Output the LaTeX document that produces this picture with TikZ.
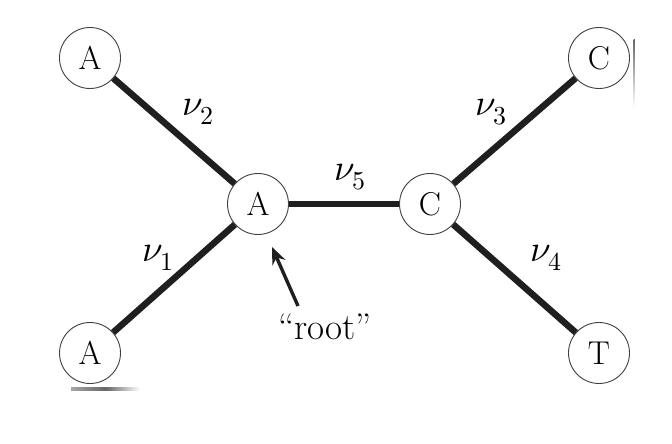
\documentclass[tikz,border=0pt]{standalone}
\usepackage{fontspec}
\usepackage{unicode-math}
\setmathfont{Latin Modern Math}
\usetikzlibrary{arrows.meta}
\begin{document}
\begin{tikzpicture}[x=1pt,y=-1pt,
  leaf/.style={circle,draw=black!75,line width=0.9pt,fill=white,minimum size=61pt,inner sep=0pt,font=\fontsize{33}{38}\selectfont},
  edge/.style={line width=6.5pt,draw=black!88},
  lab/.style={inner sep=0pt,font=\fontsize{37}{42}\selectfont},
  arr/.style={line width=3.4pt,draw=black!88,-{Stealth[length=17pt,width=14pt]}}]
\useasboundingbox (0,0) rectangle (672,444);
\node[leaf] (tl) at (90,58) {A};
\node[leaf] (bl) at (90,353) {A};
\node[leaf] (ra) at (258,204) {A};
\node[leaf] (rc) at (430,204) {C};
\node[leaf] (tr) at (599,58) {C};
\node[leaf] (br) at (599,353) {T};
\draw[edge] (tl) -- (ra);
\draw[edge] (bl) -- (ra);
\draw[edge] (ra) -- (rc);
\draw[edge] (rc) -- (tr);
\draw[edge] (rc) -- (br);
\node[lab] (n2) at (198,112) {$\nu_2$};
\node[lab] (n1) at (158,258) {$\nu_1$};
\node[lab] (n5) at (350,177) {$\nu_5$};
\node[lab] (n3) at (491,112) {$\nu_3$};
\node[lab] (n4) at (546,258) {$\nu_4$};
\node[inner sep=0pt,font=\fontsize{37}{42}\selectfont] (root) at (325,327) {“root”};
\coordinate (tail) at (298,306);
\coordinate (tip) at (272,247);
\draw[arr] (tail) -- (tip);
\shade[left color=black!35,right color=white,middle color=black!60] (71,387.5) rectangle (140,390.5);
\shade[top color=black!60,bottom color=white] (633.5,40) rectangle (634.8,107);
\end{tikzpicture}
\end{document}
